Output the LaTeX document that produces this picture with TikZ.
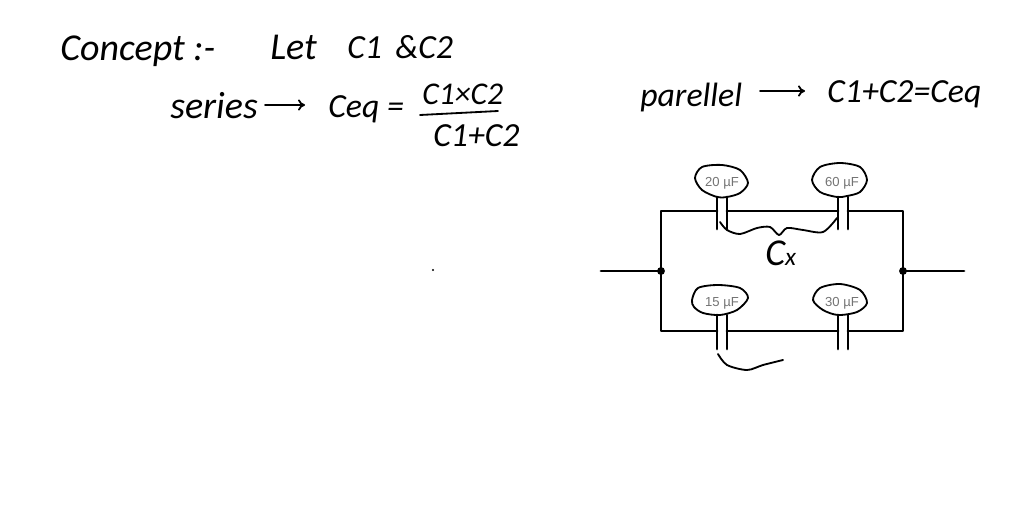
\documentclass[tikz,border=0pt]{standalone}
\usepackage{fontspec}
\usetikzlibrary{arrows.meta}
\setmainfont{Carlito}
\newfontfamily\labelfont{Liberation Sans}
\tikzset{
	hand/.style={font=\fontsize{27}{29}\selectfont\itshape,inner sep=0pt,anchor=base west},
	handsmall/.style={hand,font=\fontsize{24}{26}\selectfont\itshape},
	handtiny/.style={hand,font=\fontsize{22.5}{24}\selectfont\itshape},
	wire/.style={line width=2pt},
	ink/.style={line width=1.3pt},
	caplabel/.style={font=\labelfont\fontsize{9.3}{11}\selectfont,text=black!55,inner sep=0pt},
}
\begin{document}
\begin{tikzpicture}[>={To[length=5pt,width=8pt]},line join=round,line cap=round,x=0.025cm,y=-0.025cm]
	\useasboundingbox (0,0) rectangle (1024,512);
	% handwritten notes
	\node[hand] (concept) at (60,61) {Concept :-};
	\node[hand] (let) at (270,60) {Let};
	\node[handsmall] (cone) at (347,59) {C1};
	\node[handsmall] (ctwo) at (395,59) {\&C2};
	\node[hand] (series) at (170,118) {series};
	\coordinate (sa) at (265,105);
	\coordinate (sb) at (305,105);
	\draw[->,ink] (sa)--(sb);
	\node[handsmall] (ceq) at (328,117) {Ceq =};
	\node[handtiny] (num) at (422,105) {C1×C2};
	\coordinate (fa) at (420,115);
	\coordinate (fb) at (498,111);
	\draw[ink] (fa)--(fb);
	\node[handsmall] (den) at (433,146) {C1+C2};
	\node[handsmall] (parellel) at (640,106) {parellel};
	\coordinate (pa) at (760,91);
	\coordinate (pb) at (805,91);
	\draw[->,ink] (pa)--(pb);
	\node[handsmall] (sum) at (827,102) {C1+C2=Ceq};
	\node[hand] (cx) at (765,265) {C{\fontsize{18}{20}\selectfont x}};
	\fill (433,270) circle(0.8pt);
	% circuit
	\coordinate (tl) at (661,211);
	\coordinate (tr) at (903,211);
	\coordinate (bl) at (661,331);
	\coordinate (br) at (903,331);
	\coordinate (ml) at (661,271);
	\coordinate (mr) at (903,271);
	\coordinate (inl) at (601,271);
	\coordinate (inr) at (964,271);
	\coordinate (ta) at (717,211);
	\coordinate (tb) at (727,211);
	\coordinate (tc) at (838,211);
	\coordinate (td) at (848,211);
	\coordinate (ba) at (717,331);
	\coordinate (bb) at (727,331);
	\coordinate (bc) at (838,331);
	\coordinate (bd) at (848,331);
	\draw[wire] (ta)--(tl)--(bl)--(ba);
	\draw[wire] (tb)--(tc);
	\draw[wire] (td)--(tr)--(br)--(bd);
	\draw[wire] (bb)--(bc);
	\draw[wire] (inl)--(ml);
	\draw[wire] (mr)--(inr);
	\fill (ml) circle(2.8pt);
	\fill (mr) circle(2.8pt);
	% plates
	\draw[wire] (717,197)--(717,229);
	\draw[wire] (727,197)--(727,229);
	\draw[wire] (838,197)--(838,229);
	\draw[wire] (848,197)--(848,229);
	\draw[wire] (717,315)--(717,349);
	\draw[wire] (727,315)--(727,349);
	\draw[wire] (838,315)--(838,349);
	\draw[wire] (848,315)--(848,349);
	% labels and the rings round them
	\node[caplabel] (lbla) at (722,183) {20 µF};
	\node[caplabel] (lblb) at (842,183) {60 µF};
	\node[caplabel] (lblc) at (722,303) {15 µF};
	\node[caplabel] (lbld) at (842,303) {30 µF};
	\draw[ink] plot[smooth cycle] coordinates {(695,178) (702,167) (722,165) (740,170) (748,183) (740,193) (727,197) (717,197) (702,190)};
	\draw[ink] plot[smooth cycle] coordinates {(812,180) (820,167) (840,163) (860,167) (867,180) (860,192) (847,196) (837,197) (820,192)};
	\draw[ink] plot[smooth cycle] coordinates {(692,300) (698,288) (718,285) (740,288) (748,298) (737,310) (720,315) (703,313) (694,307)};
	\draw[ink] plot[smooth cycle] coordinates {(813,300) (820,288) (840,284) (860,290) (867,303) (857,312) (838,315) (823,310)};
	% brace and stroke
	\draw[ink] plot[smooth] coordinates {(720,222) (727,230) (740,234) (757,228) (770,227) (779,235) (787,228) (803,230) (823,232) (837,218)};
	\draw[ink] plot[smooth] coordinates {(718,354) (727,365) (747,370) (763,365) (783,360)};
\end{tikzpicture}
\end{document}
